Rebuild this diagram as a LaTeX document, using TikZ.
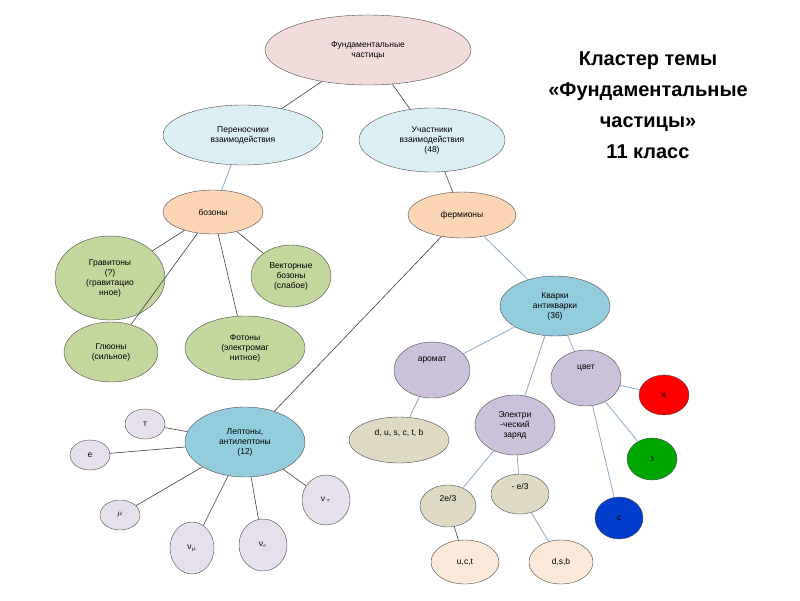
\documentclass[tikz,border=0pt]{standalone}
\usepackage{fontspec}
\setmainfont{Liberation Sans}
\usetikzlibrary{shapes.geometric}
\definecolor{rosa}{HTML}{F2DCDB}
\definecolor{sky}{HTML}{DBEEF4}
\definecolor{peach}{HTML}{FCD5B4}
\definecolor{olive}{HTML}{C3D69B}
\definecolor{teal}{HTML}{93CDDD}
\definecolor{lav}{HTML}{E6E0EC}
\definecolor{lilac}{HTML}{CCC1DA}
\definecolor{khaki}{HTML}{DDD9C3}
\definecolor{cream}{HTML}{FDE9D9}
\definecolor{linkblue}{HTML}{8EA9C8}
\begin{document}
\begin{tikzpicture}[x=1pt,y=-1pt,
    blob/.style={ellipse,draw=black!70,thin,font=\fontsize{8.5}{10}\selectfont,align=center,inner sep=0pt},
    link/.style={-,draw=black!75,line width=0.6pt},
    qlink/.style={-,draw=linkblue,line width=0.8pt}]
  \useasboundingbox (0,0) rectangle (800,600);
  % top of the tree
  \node[blob,fill=rosa,minimum width=206,minimum height=70] (fund) at (368,50) {Фундаментальные\\частицы};
  \node[blob,fill=sky,minimum width=160,minimum height=60] (carr) at (243,135) {Переносчики\\взаимодействия};
  \node[blob,fill=sky,minimum width=146,minimum height=64] (part) at (432,140) {Участники\\взаимодействия\\(48)};
  \node[blob,fill=peach,minimum width=100,minimum height=44] (bos) at (213,212) {бозоны};
  \node[blob,fill=peach,minimum width=108,minimum height=46] (ferm) at (462,215) {фермионы};
  % bosons
  \node[blob,fill=olive,minimum width=110,minimum height=84] (grav) at (110,278) {Гравитоны\\(?)\\(гравитацио\\нное)};
  \node[blob,fill=olive,minimum width=80,minimum height=62] (vect) at (291,276) {Векторные\\бозоны\\(слабое)};
  \node[blob,fill=olive,minimum width=94,minimum height=60] (gluon) at (111,352) {Глюоны\\(сильное)};
  \node[blob,fill=olive,minimum width=120,minimum height=64] (phot) at (245,348) {Фотоны\\(электромаг\\нитное)};
  % leptons
  \node[blob,fill=teal,minimum width=120,minimum height=70] (lept) at (245,442) {Лептоны,\\антилептоны\\(12)};
  \node[blob,fill=lav,minimum width=40,minimum height=30] (tau) at (145,424) {т};
  \node[blob,fill=lav,minimum width=40,minimum height=30] (el) at (90,455) {е};
  \node[blob,fill=lav,minimum width=40,minimum height=30] (mu) at (120,515) {$\mu$};
  \node[blob,fill=lav,minimum width=44,minimum height=52] (numu) at (192,548) {ν$_\mu$};
  \node[blob,fill=lav,minimum width=48,minimum height=52] (nue) at (263,545) {ν$_e$};
  \node[blob,fill=lav,minimum width=48,minimum height=50] (nutau) at (326,500) {ν\,$_\tau$};
  % quarks
  \node[blob,fill=teal,minimum width=110,minimum height=60] (quark) at (555,306) {Кварки\\антикварки\\(36)};
  \node[blob,fill=lilac,minimum width=76,minimum height=56] (arom) at (432,370) {аромат\\[12pt]};
  \node[blob,fill=lilac,minimum width=70,minimum height=56] (col) at (586,378) {цвет\\[12pt]};
  \node[blob,fill=lilac,minimum width=80,minimum height=60] (charge) at (515,425) {Электри\\-ческий\\заряд};
  \node[blob,fill=khaki,minimum width=100,minimum height=46] (flav) at (399,440) {d, u, s, c, t, b\\[6pt]};
  \node[blob,fill=khaki,minimum width=56,minimum height=42] (up) at (448,506) {2e/3\\[6pt]};
  \node[blob,fill=khaki,minimum width=58,minimum height=40] (down) at (520,494) {- e/3\\[6pt]};
  \node[blob,fill=cream,minimum width=68,minimum height=44] (uct) at (465,562) {u,c,t};
  \node[blob,fill=cream,minimum width=64,minimum height=44] (dsb) at (561,562) {d,s,b};
  \node[blob,fill=red,minimum width=50,minimum height=40] (kr) at (664,395) {к};
  \node[blob,fill=green!65!black,minimum width=50,minimum height=42] (zl) at (652,459) {з};
  \node[blob,fill=blue!70!cyan!80!black,minimum width=48,minimum height=42] (sn) at (619,518) {с};
  % title
  \node[font=\bfseries\fontsize{20}{31}\selectfont,align=center] (title) at (648,105)
    {Кластер темы\\«Фундаментальные\\частицы»\\11 класс};
  % connectors
  \draw[link] (fund) -- (carr);
  \draw[link] (fund) -- (part);
  \draw[link] (part) -- (ferm);
  \draw[qlink] (carr) -- (bos);
  \foreach \n in {grav,vect,gluon,phot} \draw[link] (bos) -- (\n);
  \draw[link] (ferm) -- (lept);
  \draw[qlink] (ferm) -- (quark);
  \foreach \n in {tau,el,mu,numu,nue,nutau} \draw[link] (lept) -- (\n);
  \foreach \n in {arom,col,charge} \draw[qlink] (quark) -- (\n);
  \draw[qlink] (arom) -- (flav);
  \draw[qlink] (charge) -- (up);
  \draw[qlink] (charge) -- (down);
  \draw[link] (up) -- (uct);
  \draw[qlink] (down) -- (dsb);
  \foreach \n in {kr,zl,sn} \draw[qlink] (col) -- (\n);
\end{tikzpicture}
\end{document}
